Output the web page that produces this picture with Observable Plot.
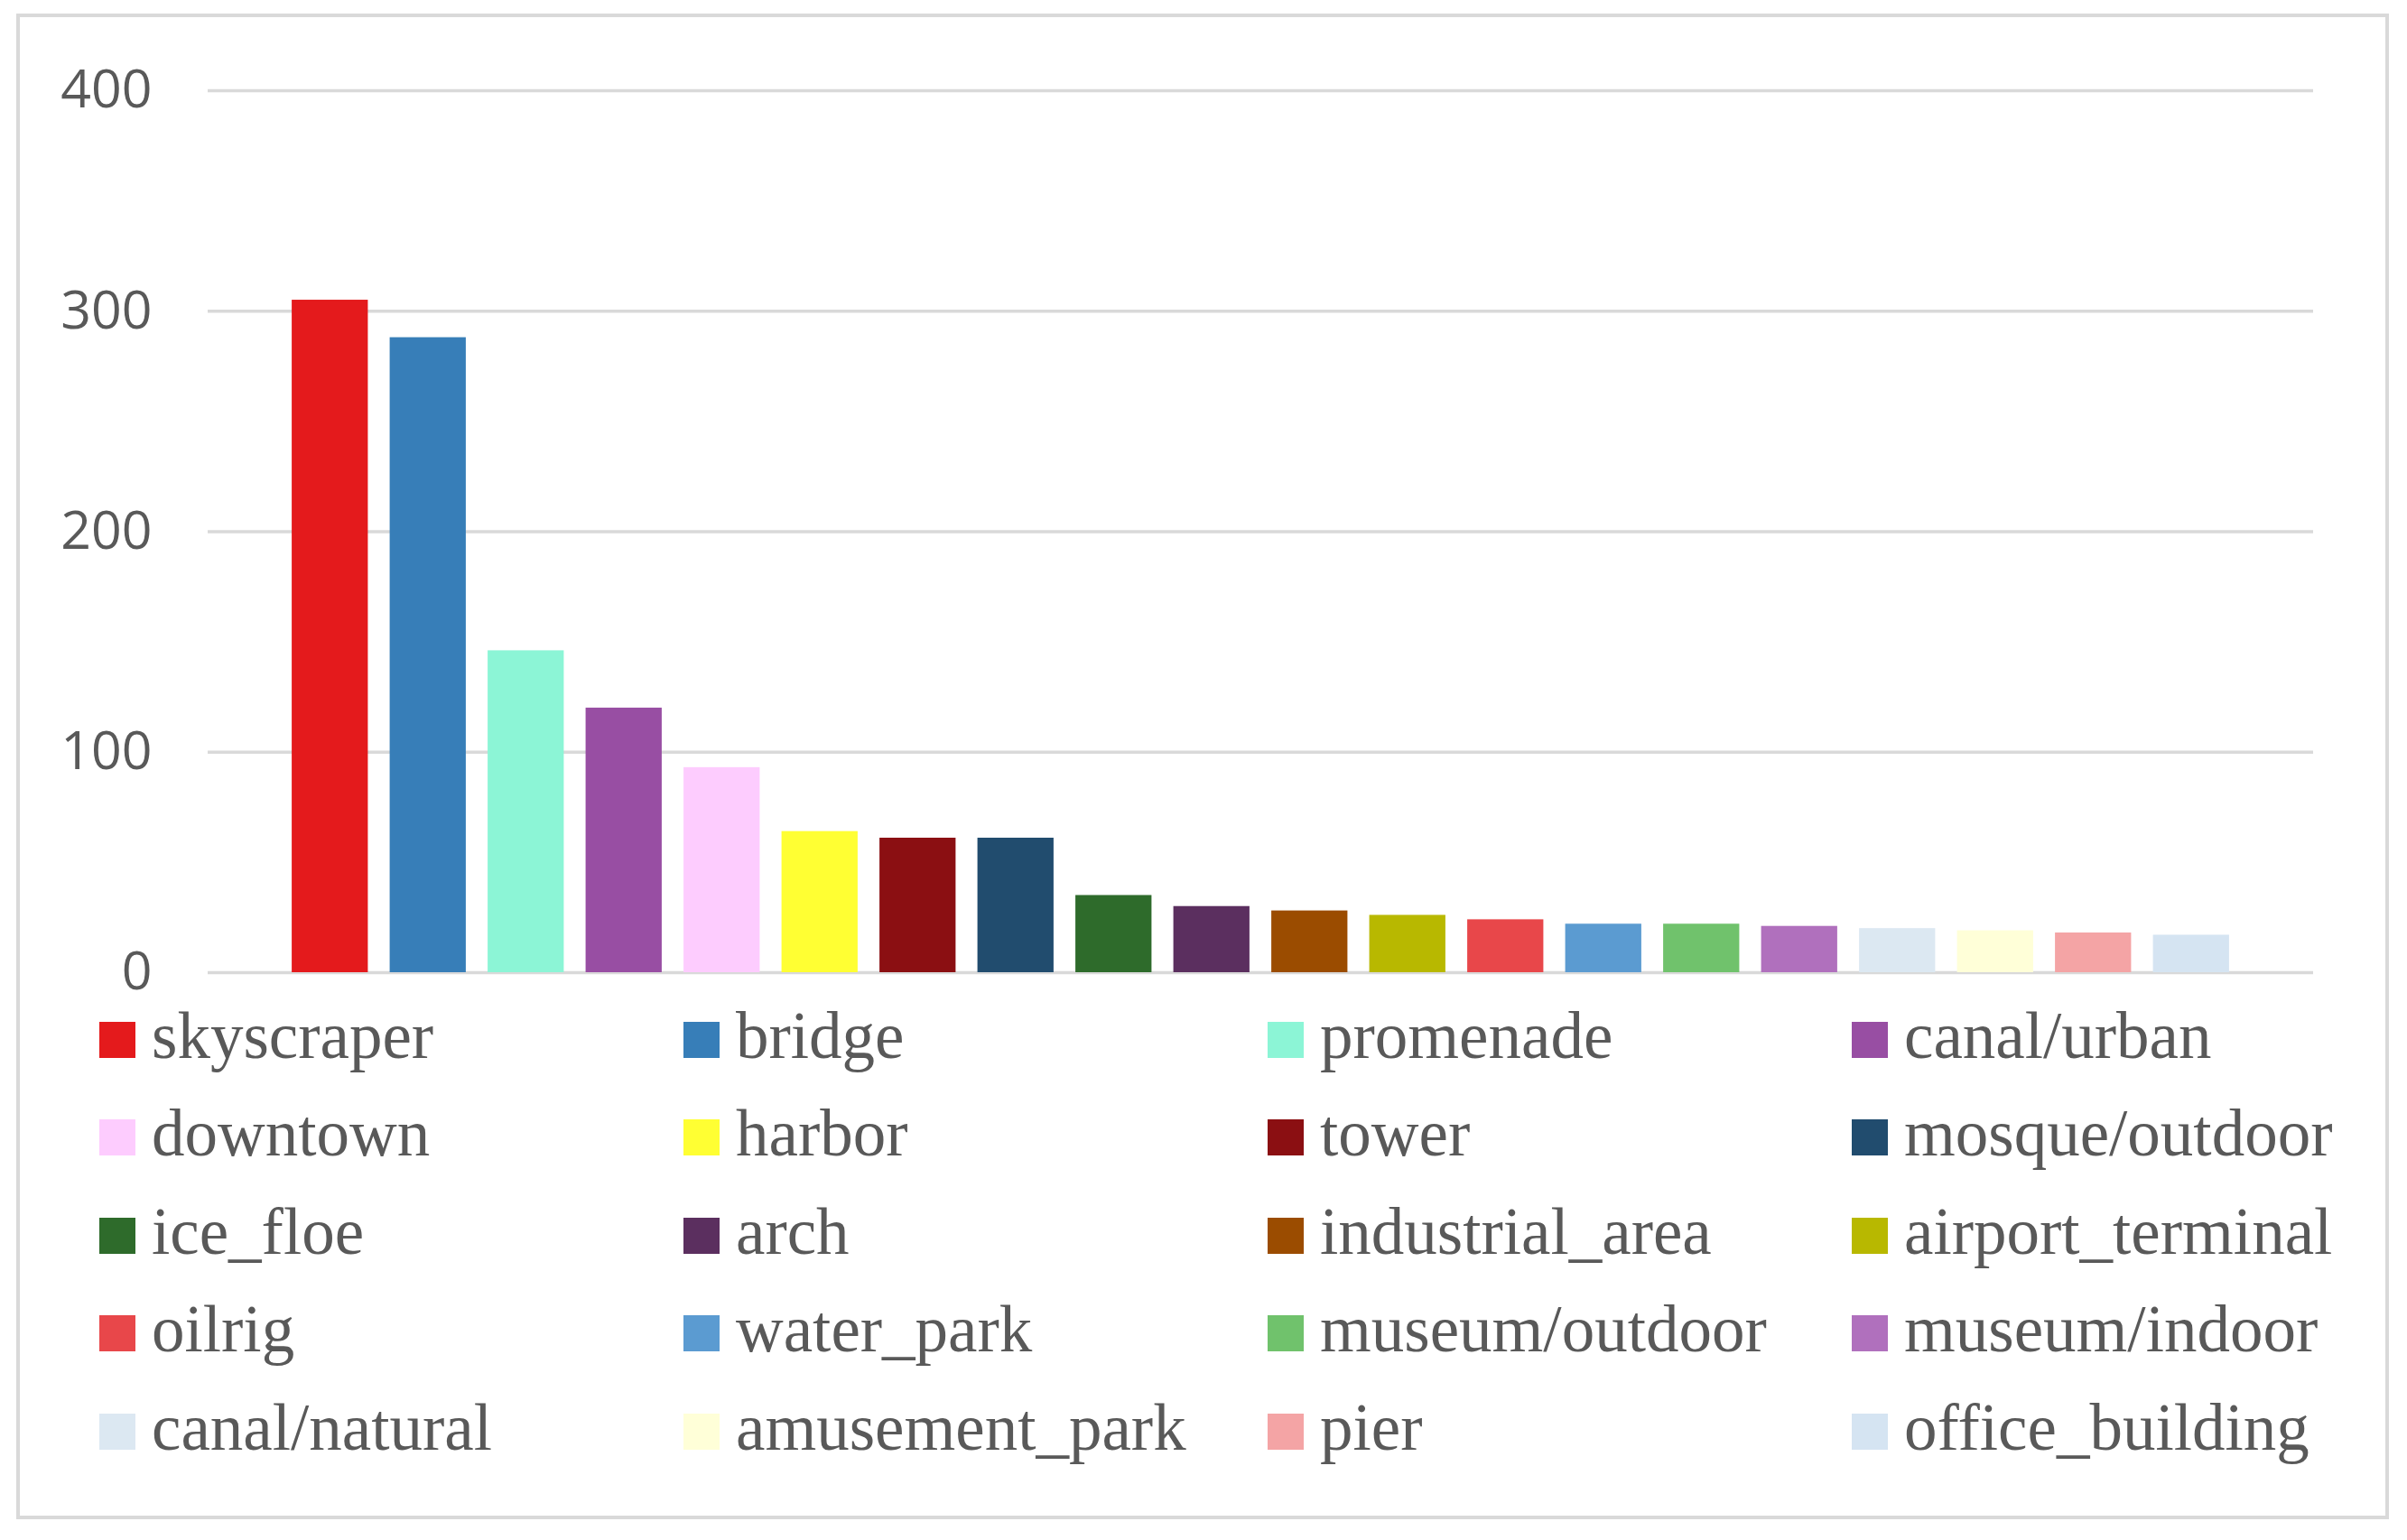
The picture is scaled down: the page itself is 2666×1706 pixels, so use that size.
<!DOCTYPE html>
<html>
<head>
<meta charset="utf-8">
<script src="https://cdn.jsdelivr.net/npm/d3@7"></script>
<script src="https://cdn.jsdelivr.net/npm/@observablehq/plot@0.6"></script>
<style>
  html, body { margin: 0; padding: 0; background: #fff; overflow: hidden; }
  #page { position: relative; width: 2666px; height: 1706px; background: #fff; }
  #frame { position: absolute; left: 18px; top: 15px; width: 2628px; height: 1668px;
           box-sizing: border-box; border: 4px solid #d9d9d9; }
  #chart { position: absolute; left: 0; top: 0; }
  #legend { position: absolute; left: 110px; top: 1094px;
            display: grid; grid-template-columns: repeat(4, 647px);
            font-family: "Liberation Serif", "DejaVu Serif", serif; font-size: 73px;
            line-height: 108.4px; color: #595959; }
  .item { white-space: nowrap; }
  .sw { display: inline-block; width: 40px; height: 40px; margin-right: 18px; }
</style>
</head>
<body>
<div id="page">
  <div id="frame"></div>
  <div id="chart"></div>
  <div id="legend"></div>
</div>
<script>
const categories = ["skyscraper", "bridge", "promenade", "canal/urban", "downtown", "harbor", "tower", "mosque/outdoor",
  "ice_floe", "arch", "industrial_area", "airport_terminal", "oilrig", "water_park", "museum/outdoor", "museum/indoor",
  "canal/natural", "amusement_park", "pier", "office_building"];
const counts = [305, 288, 146, 120, 93, 64, 61, 61, 35, 30, 28, 26, 24, 22, 22, 21, 20, 19, 18, 17];
const colors = ["#e41a1c", "#377eb8", "#8cf5d6", "#984ea3", "#fdccfe", "#ffff33", "#8b0f12", "#214c6e",
  "#2e6b2b", "#5b2f5f", "#9b4c00", "#b8b800", "#e8474a", "#5b9bd1", "#70c26c", "#b070bd",
  "#dce8f2", "#ffffd8", "#f4a4a5", "#d5e4f2"];
const yTicks = [0, 100, 200, 300, 400];

const data = categories.map((c, i) => ({category: c, count: counts[i]}));

const chart = Plot.plot({
  width: 2666,
  height: 1112,
  marginLeft: 230,
  marginRight: 104,
  marginTop: 100,
  marginBottom: 35,
  style: {background: "transparent", fontFamily: "'Open Sans', sans-serif", overflow: "visible"},
  x: {domain: categories, insetLeft: 81, insetRight: 81, paddingInner: 0.223, paddingOuter: 0.1115, round: false, axis: null},
  y: {domain: [0, 400]},
  color: {domain: categories, range: colors},
  marks: [
    Plot.ruleY(yTicks, {stroke: "#d9d9d9", strokeWidth: 3.5}),
    Plot.barY(data, {x: "category", y: "count", fill: "category"}),
    Plot.axisY({ticks: yTicks, tickSize: 0, tickPadding: 62, fontSize: 59, fill: "#595959", label: null, tickFormat: d => String(d)})
  ]
});
document.getElementById("chart").appendChild(chart);

const legend = document.getElementById("legend");
categories.forEach((c, i) => {
  const item = document.createElement("div");
  item.className = "item";
  const sw = document.createElement("span");
  sw.className = "sw";
  sw.style.background = chart.scale("color").apply(c);
  item.appendChild(sw);
  item.appendChild(document.createTextNode(c));
  legend.appendChild(item);
});
</script>
</body>
</html>
